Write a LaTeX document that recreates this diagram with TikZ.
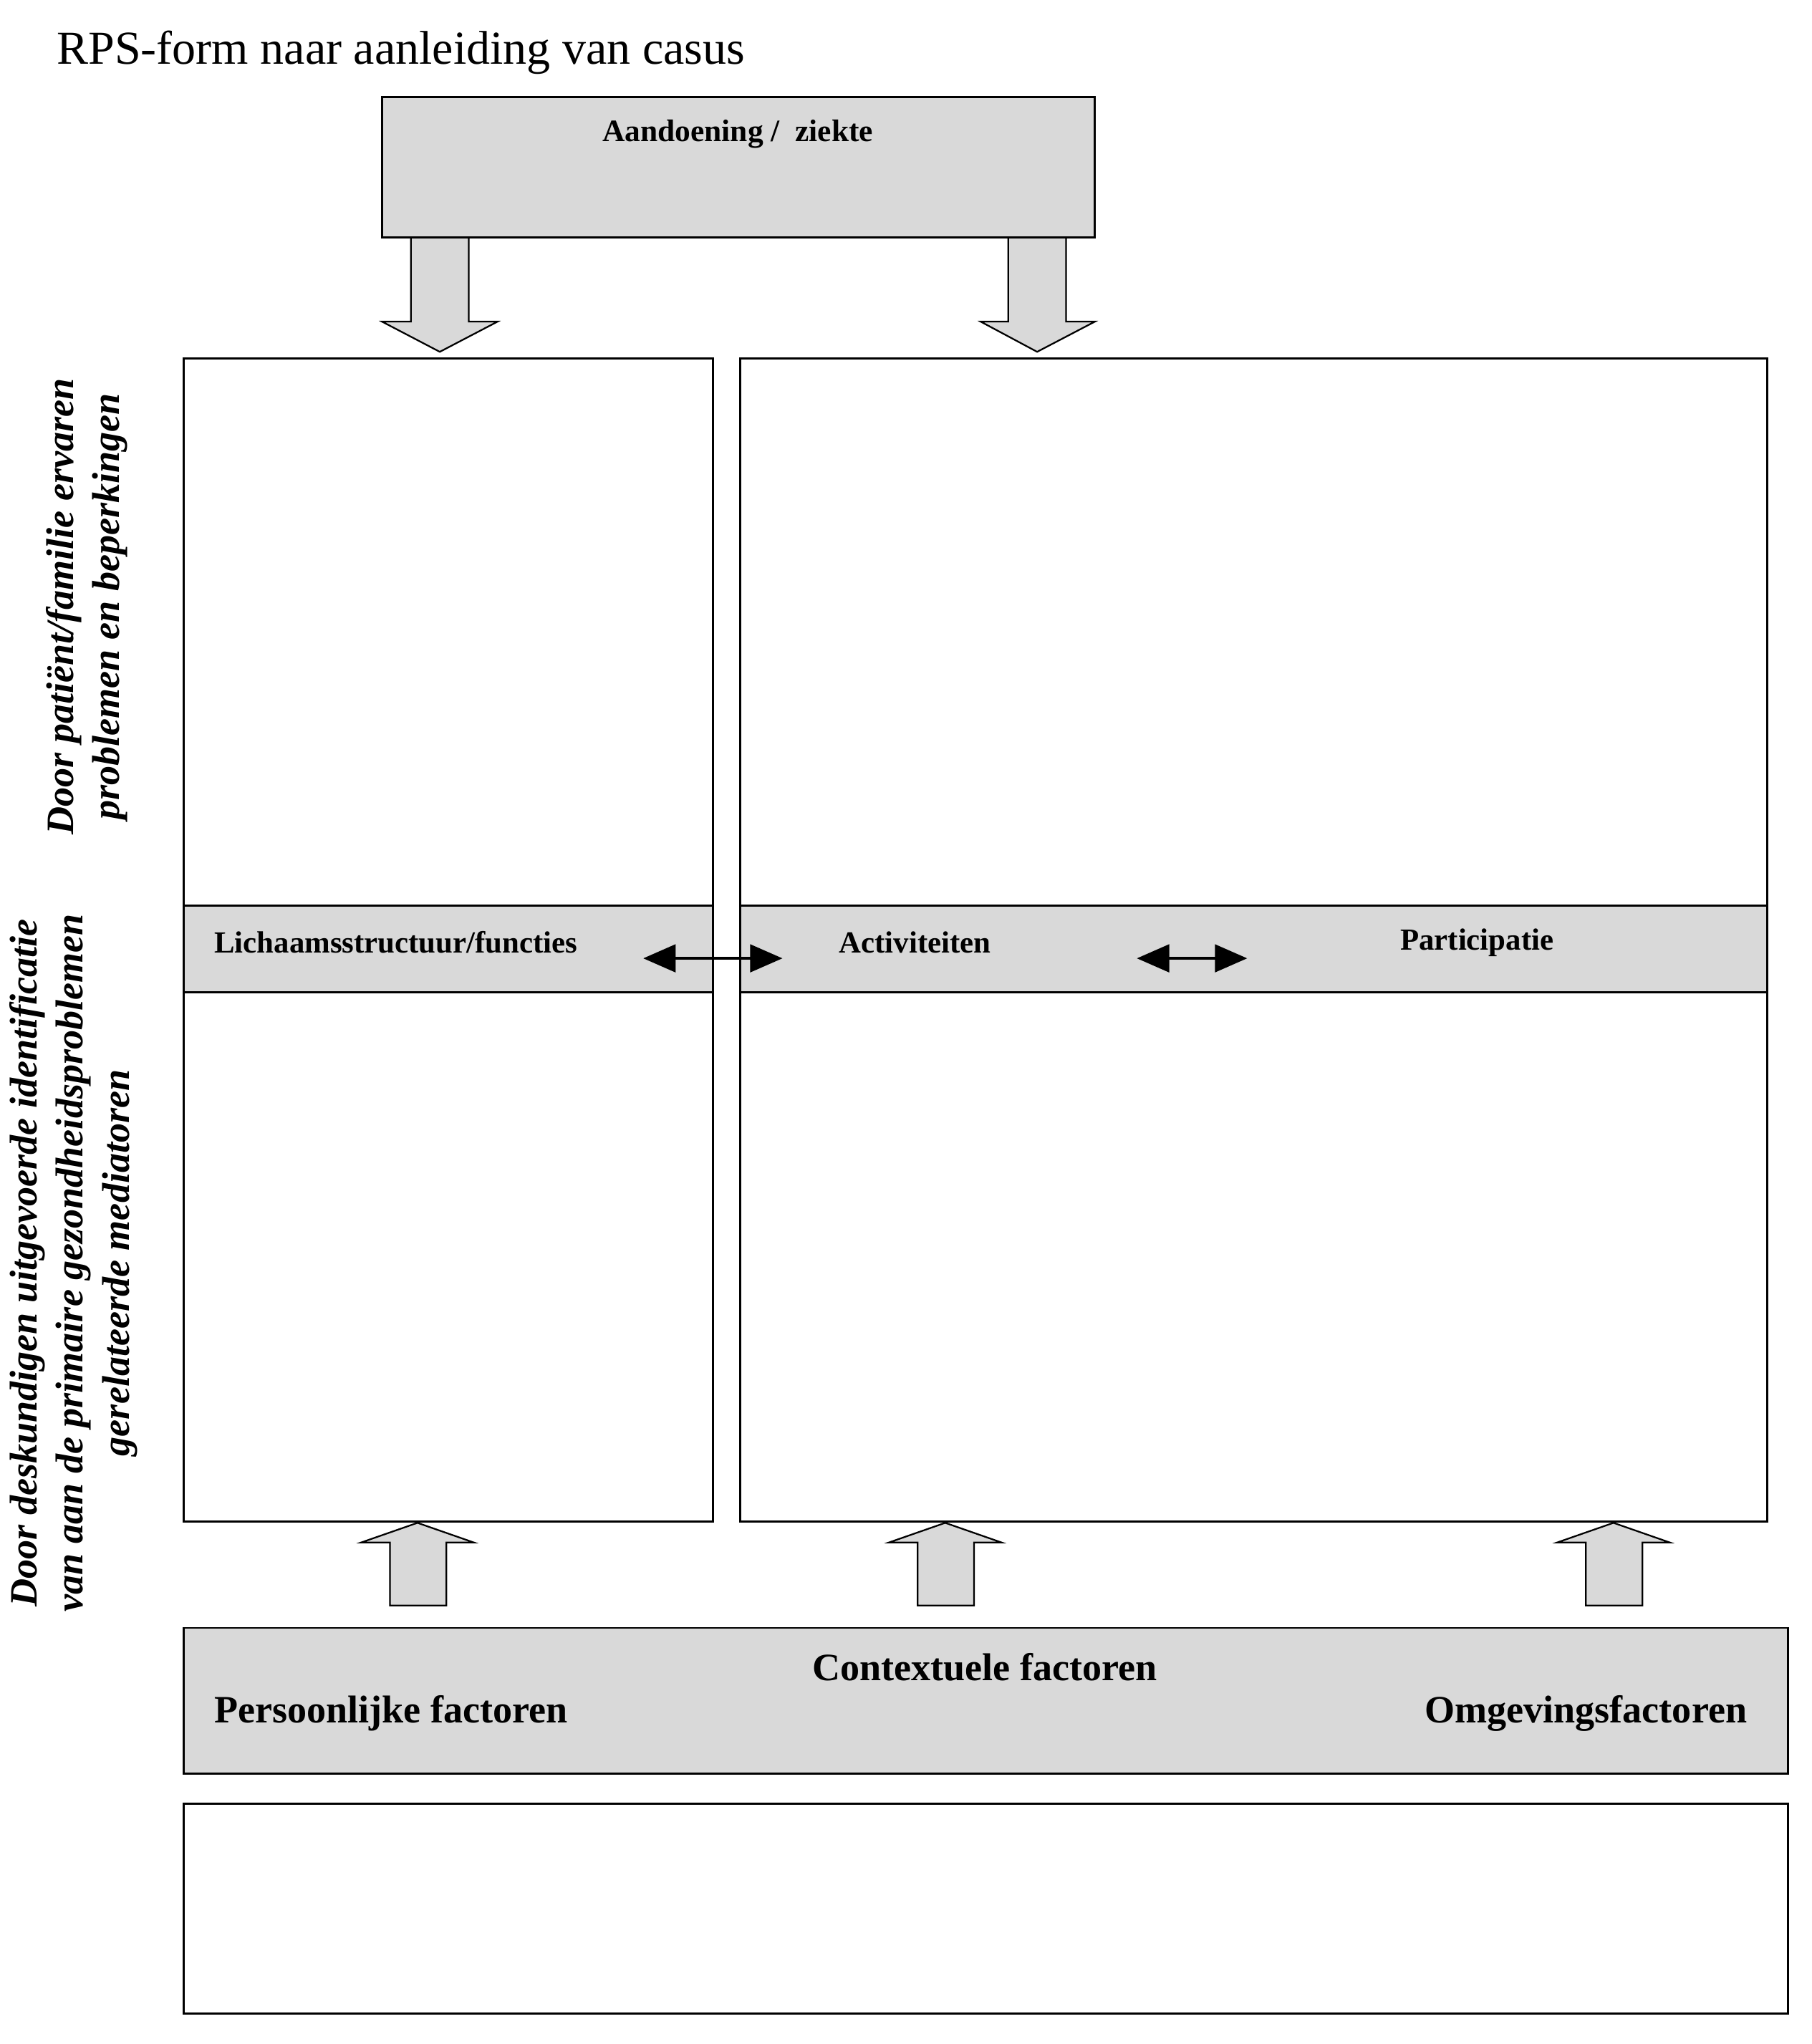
\documentclass[tikz,border=0pt]{standalone}
\usepackage{fontspec}
\setmainfont{Liberation Serif}
\usetikzlibrary{arrows.meta}
\definecolor{boxgray}{HTML}{D9D9D9}
\begin{document}
\begin{tikzpicture}[x=0.02cm,y=-0.02cm,
  box/.style={draw=black,line width=0.9pt},
  gbox/.style={draw=black,line width=0.9pt,fill=boxgray},
  barrow/.style={draw=black,line width=0.7pt,fill=boxgray},
  lbl/.style={font=\bfseries\fontsize{13.3}{15}\selectfont,inner sep=0pt},
  ctx/.style={font=\bfseries\fontsize{16.8}{19}\selectfont,inner sep=0pt},
  side/.style={font=\bfseries\itshape\fontsize{16.8}{20}\selectfont,rotate=90,align=center,inner sep=0pt},
  dbl/.style={line width=1pt,{Triangle[length=14pt,width=12pt]}-{Triangle[length=14pt,width=12pt]}}]
\useasboundingbox (0,0) rectangle (1380,1557);
\node[anchor=west,inner sep=0pt,font=\fontsize{20.5}{24}\selectfont] (title) at (43,40) {RPS-form naar aanleiding van casus};
% top box
\draw[gbox] (291,74) rectangle (834,181);
\node[lbl,font=\bfseries\fontsize{13.5}{15}\selectfont] (aand) at (562,102) {Aandoening /\ \ ziekte};
% down arrows
\draw[barrow] (313,181)--(357,181)--(357,245)--(379,245)--(335,268)--(291,245)--(313,245)--cycle;
\draw[barrow] (768,181)--(812,181)--(812,245)--(834,245)--(790,268)--(747,245)--(768,245)--cycle;
% main boxes
\draw[gbox] (140,690) rectangle (543,756);
\draw[gbox] (564,690) rectangle (1346,756);
\draw[box] (140,273) rectangle (543,1159);
\draw[box] (564,273) rectangle (1346,1159);
\node[lbl,anchor=west] (lich) at (163,718) {Lichaamsstructuur/functies};
\node[lbl] (act) at (697,718) {Activiteiten};
\node[lbl] (part) at (1125,718) {Participatie};
\coordinate (d1a) at (490,730); \coordinate (d1b) at (596,730);
\coordinate (d2a) at (866,730); \coordinate (d2b) at (950,730);
\draw[dbl] (d1a) -- (d1b);
\draw[dbl] (d2a) -- (d2b);
% up arrows
\foreach \c in {318,720,1229}{
  \draw[barrow] (\c-21,1223)--(\c+22,1223)--(\c+22,1175)--(\c+43,1175)--(\c,1160)--(\c-43,1175)--(\c-21,1175)--cycle;
}
% context box
\draw[gbox] (140,1240) rectangle (1362,1351);
\node[ctx] (cont) at (750,1270) {Contextuele factoren};
\node[ctx,anchor=west] (pers) at (163,1305) {Persoonlijke factoren};
\node[ctx,anchor=east] (omg) at (1331,1305) {Omgevingsfactoren};
\draw[box] (140,1374) rectangle (1362,1534);
% side labels
\node[side] (s1) at (66,462) {Door patiënt/familie ervaren\\problemen en beperkingen};
\node[side] (s2) at (56,962) {Door deskundigen uitgevoerde identificatie\\van aan de primaire gezondheidsproblemen\\gerelateerde mediatoren};
\end{tikzpicture}
\end{document}
